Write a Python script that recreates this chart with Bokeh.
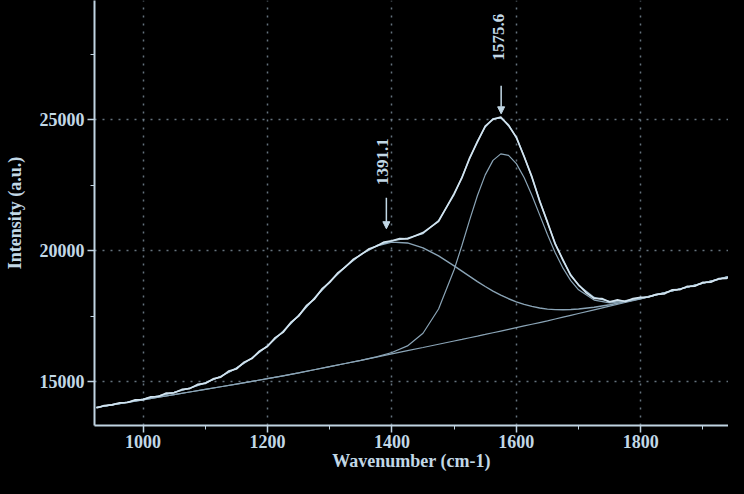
import math
from bokeh.plotting import figure
from bokeh.models import (Range1d, FixedTicker, Arrow, NormalHead, ColumnDataSource,
                          GlobalInlineStyleSheet)
from bokeh.core.properties import value
from bokeh.embed import file_html
from bokeh.resources import INLINE

# ---------------- data ----------------
wavenumber = [925, 950, 975, 1000, 1025, 1050, 1075, 1100, 1125, 1150, 1175, 1200,
              1225, 1250, 1275, 1300, 1325, 1350, 1375, 1400, 1425, 1450, 1475, 1500,
              1512.5, 1525, 1537.5, 1550, 1562.5, 1575, 1587.5, 1600, 1612.5, 1625,
              1637.5, 1650, 1662.5, 1675, 1687.5, 1700, 1725, 1750, 1775, 1800, 1825,
              1850, 1875, 1900, 1925, 1950, 1966]

baseline = [14010, 14107, 14203, 14300, 14400, 14500, 14600, 14700, 14802, 14905, 15007, 15110,
            15220, 15330, 15450, 15570, 15690, 15810, 15935, 16060, 16180, 16300, 16425, 16550,
            16612, 16675, 16737, 16800, 16865, 16930, 16995, 17060, 17125, 17190,
            17255, 17320, 17390, 17460, 17530, 17600, 17740, 17880, 18020, 18160, 18310,
            18460, 18610, 18760, 18910, 19060, 19160]

d_band = [3, 6, 13, 25, 47, 86, 150, 249, 397, 608, 893, 1257,
          1696, 2195, 2723, 3241, 3697, 4045, 4243, 4268, 4117, 3808, 3377, 2872,
          2607, 2341, 2081, 1832, 1594, 1373, 1170, 987, 823, 681,
          556, 449, 360, 285, 223, 173, 101, 56, 30, 15, 7,
          3, 0, 0, 0, 0, 0]

g_band = [0, 0, 0, 0, 0, 0, 0, 0, 0, 0, 0, 0,
          0, 0, 0, 0, 0, 2, 11, 49, 182, 547, 1348, 2722,
          3588, 4502, 5371, 6098, 6587, 6770, 6647, 6266, 5671, 4929,
          4113, 3296, 2535, 1873, 1328, 904, 372, 129, 38, 10, 2,
          0, 0, 0, 0, 0, 0]

fit_total = [14013, 14113, 14216, 14325, 14447, 14586, 14750, 14949, 15199, 15513, 15900, 16367,
             16916, 17525, 18173, 18811, 19387, 19857, 20189, 20377, 20479, 20655, 21150, 22144,
             22807, 23518, 24189, 24730, 25046, 25073, 24812, 24313, 23619, 22800,
             21924, 21065, 20285, 19618, 19081, 18677, 18213, 18065, 18088, 18185, 18319,
             18463, 18610, 18760, 18910, 19060, 19160]

measured_wn = [925, 937.5, 950, 962.5, 975, 987.5, 1000, 1012.5, 1025, 1037.5, 1050, 1062.5,
               1075, 1087.5, 1100, 1112.5, 1125, 1137.5, 1150, 1162.5, 1175, 1187.5, 1200,
               1212.5, 1225, 1237.5, 1250, 1262.5, 1275, 1287.5, 1300, 1312.5, 1325, 1337.5,
               1350, 1362.5, 1375, 1387.5, 1400, 1412.5, 1425, 1450, 1475, 1500, 1512.5,
               1525, 1537.5, 1550, 1562.5, 1575, 1587.5, 1600, 1612.5, 1625, 1637.5, 1650,
               1662.5, 1675, 1687.5, 1700, 1712.5, 1725, 1737.5, 1750, 1762.5, 1775, 1787.5,
               1800, 1812.5, 1825, 1837.5, 1850, 1862.5, 1875, 1887.5, 1900, 1912.5, 1925,
               1937.5, 1950, 1958, 1966]
measured = [13990, 14080, 14110, 14190, 14200, 14300, 14310, 14420, 14430, 14560, 14570, 14700,
            14730, 14890, 14930, 15100, 15170, 15400, 15480, 15740, 15880, 16170, 16340,
            16680, 16880, 17260, 17500, 17900, 18140, 18540, 18790, 19140, 19370, 19660,
            19840, 20060, 20170, 20330, 20380, 20460, 20450, 20690, 21120, 22180, 22780,
            23550, 24160, 24760, 25020, 25110, 24780, 24340, 23590, 22830, 21890, 21100,
            20250, 19650, 19050, 18700, 18390, 18180, 18170, 18040, 18120, 18060, 18170,
            18220, 18230, 18330, 18350, 18500, 18510, 18640, 18650, 18790, 18800, 18930,
            18940, 19090, 19080, 19170]

peak_positions = [1391.1, 1575.6]
peak_heights = [20330, 25110]
peak_labels = ["1391.1", "1575.6"]

x_ticks = [1000, 1200, 1400, 1600, 1800]
x_minor = [900, 1100, 1300, 1500, 1700, 1900]
y_ticks = [15000, 20000, 25000]
y_minor = [12500, 17500, 22500, 27500]

# ---------------- styling ----------------
BG = "#000000"
TXT = "#c2d8e6"
AX = "#c0d4e2"
LINE_MAIN = "#d2e4f0"
LINE_FIT = "#9fbccd"
LINE_COMP = "#8aa4b6"
GRID = "#7d8e9c"
FONT = "Liberation Serif"

p = figure(width=728, height=478, output_backend="svg", toolbar_location=None,
           x_range=Range1d(922, 1941), y_range=Range1d(13321, 29560),
           min_border_left=94, min_border_right=0, min_border_top=0, min_border_bottom=53,
           background_fill_color=BG, border_fill_color=BG, outline_line_color=None)

p.stylesheets = [GlobalInlineStyleSheet(css="html, body { background-color: #000000; }")]

comp_d = [b + d for b, d in zip(baseline, d_band)]
comp_g = [b + g for b, g in zip(baseline, g_band)]

p.line(wavenumber, baseline, line_color=LINE_COMP, line_width=1.2)
p.line(wavenumber, comp_d, line_color=LINE_COMP, line_width=1.4)
p.line(wavenumber, comp_g, line_color=LINE_COMP, line_width=1.2)
p.line(wavenumber, fit_total, line_color=LINE_FIT, line_width=1.4)
p.line(measured_wn, measured, line_color=LINE_MAIN, line_width=1.7)

# annotations
text_offsets = [3070, 3050]
arrow_starts = [1690, 1190]
arrow_ends = [510, 120]
text_x_shift = [-7, -4]
src = ColumnDataSource(dict(
    x=[px + s for px, s in zip(peak_positions, text_x_shift)],
    y=[h + o for h, o in zip(peak_heights, text_offsets)],
    t=peak_labels))
p.text(x="x", y="y", text="t", source=src, angle=math.pi / 2,
       text_align="center", text_baseline="middle",
       text_font=value(FONT), text_font_style="bold", text_font_size="17px",
       text_color=TXT)
for px, h, s, e in zip(peak_positions, peak_heights, arrow_starts, arrow_ends):
    p.add_layout(Arrow(end=NormalHead(size=7, fill_color=TXT, line_color=TXT),
                       x_start=px, y_start=h + s, x_end=px, y_end=h + e,
                       line_color=TXT, line_width=1.5))

# axes
for ax in (p.xaxis[0], p.yaxis[0]):
    ax.axis_line_color = AX
    ax.axis_line_width = 2
    ax.major_tick_line_color = AX
    ax.minor_tick_line_color = AX
    ax.major_tick_line_width = 1.5
    ax.major_tick_out = 7
    ax.major_tick_in = 0
    ax.minor_tick_out = 4
    ax.minor_tick_in = 0
    ax.major_label_text_color = TXT
    ax.major_label_text_font = FONT
    ax.major_label_text_font_style = "bold"
    ax.major_label_text_font_size = "18px"
    ax.axis_label_text_color = TXT
    ax.axis_label_text_font = FONT
    ax.axis_label_text_font_style = "bold"
    ax.axis_label_text_font_size = "18px"

p.xaxis.ticker = FixedTicker(ticks=x_ticks, minor_ticks=x_minor)
p.yaxis.ticker = FixedTicker(ticks=y_ticks, minor_ticks=y_minor)
p.xaxis.axis_label = "Wavenumber (cm-1)"
p.yaxis.axis_label = "Intensity (a.u.)"
p.xaxis.major_label_standoff = 2
p.yaxis.major_label_standoff = 3
p.xaxis.axis_label_standoff = 0
p.yaxis.axis_label_standoff = 12

for g in (p.xgrid[0], p.ygrid[0]):
    g.grid_line_color = GRID
    g.grid_line_dash = "2 6"
    g.grid_line_width = 1.5
    g.grid_line_alpha = 0.8

open("out.html", "w").write(file_html(p, INLINE))
